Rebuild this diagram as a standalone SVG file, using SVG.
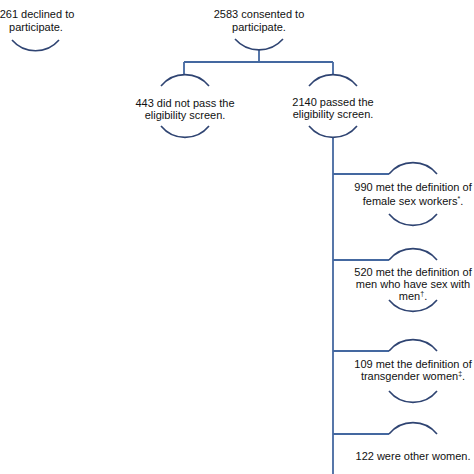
<svg xmlns="http://www.w3.org/2000/svg" width="474" height="474" viewBox="0 0 474 474">
<style>
text{font-family:"Liberation Sans",Arial,sans-serif;font-size:11px;fill:#111111;text-anchor:middle}
.arc{fill:none;stroke:#2f4472;stroke-width:1.6}
.ln{fill:none;stroke:#4468a0;stroke-width:1.8}
.sup{font-size:7px}
</style>
<rect width="474" height="474" fill="#ffffff"/>
<g id="connectors">
<path class="ln" d="M259 50 V62 M184 62 H333 M184 62 V75 M333 62 V75"/>
<path class="ln" d="M333 137 V474"/>
<path class="ln" d="M333 174 H389"/>
<path class="ln" d="M333 260 H389"/>
<path class="ln" d="M333 351 H389"/>
<path class="ln" d="M333 434 H389"/>
</g>
<g id="n261">
<text x="37" y="18">261 declined to</text>
<text x="36" y="31">participate.</text>
<path class="arc" d="M12 40 A31 31 0 0 0 59 40"/>
</g>
<g id="n2583">
<text x="259" y="18">2583 consented to</text>
<text x="259" y="31">participate.</text>
<path class="arc" d="M235 39 A32 32 0 0 0 283 39"/>
</g>
<g id="n443">
<text x="185" y="107">443 did not pass the</text>
<text x="185" y="119">eligibility screen.</text>
<path class="arc" d="M161 86 A31 31 0 0 1 209 86"/>
<path class="arc" d="M161 126 A31 31 0 0 0 209 126"/>
</g>
<g id="n2140">
<text x="333" y="106">2140 passed the</text>
<text x="333" y="118">eligibility screen.</text>
<path class="arc" d="M309 86 A31 31 0 0 1 357 86"/>
<path class="arc" d="M309 126 A31 31 0 0 0 357 126"/>
</g>
<g id="n990">
<text x="413" y="191">990 met the definition of</text>
<text x="413" y="205">female sex workers<tspan class="sup" dy="-4">*</tspan><tspan dy="4">.</tspan></text>
<path class="arc" d="M389 174 A31 31 0 0 1 437 174"/>
<path class="arc" d="M389 214 A31 31 0 0 0 437 214"/>
</g>
<g id="n520">
<text x="413" y="276">520 met the definition of</text>
<text x="413" y="288">men who have sex with</text>
<text x="413" y="300">men<tspan class="sup" dy="-4">†</tspan><tspan dy="4">.</tspan></text>
<path class="arc" d="M389 260 A31 31 0 0 1 437 260"/>
<path class="arc" d="M389 300 A31 31 0 0 0 437 300"/>
</g>
<g id="n109">
<text x="413" y="368">109 met the definition of</text>
<text x="413" y="380">transgender women<tspan class="sup" dy="-4">‡</tspan><tspan dy="4">.</tspan></text>
<path class="arc" d="M389 351 A31 31 0 0 1 437 351"/>
<path class="arc" d="M389 391 A31 31 0 0 0 437 391"/>
</g>
<g id="n122">
<text x="413" y="460">122 were other women.</text>
<path class="arc" d="M389 434 A31 31 0 0 1 437 434"/>
</g>
</svg>
